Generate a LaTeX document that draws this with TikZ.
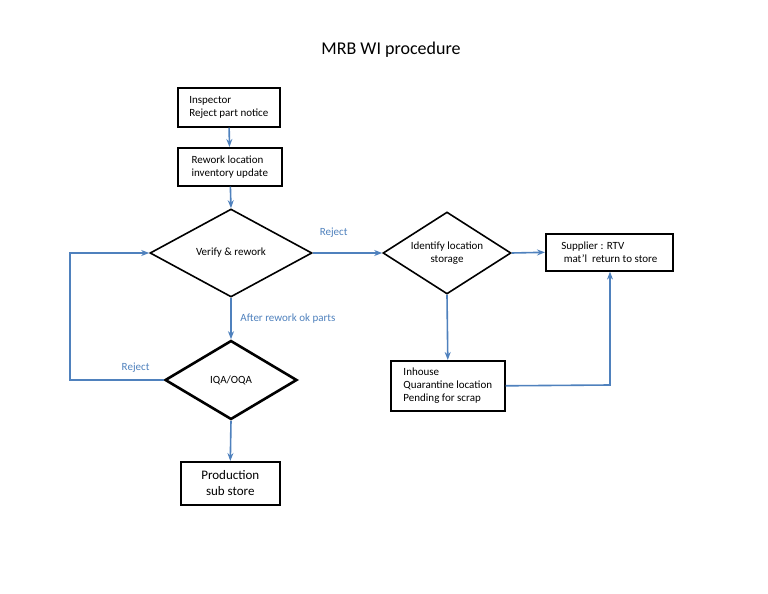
\documentclass[tikz,border=0pt]{standalone}
\usepackage{fontspec}
\setmainfont{Carlito}
\usetikzlibrary{shapes.geometric,arrows.meta}
\definecolor{ln}{RGB}{79,129,189}
\begin{document}
\begin{tikzpicture}[x=0.5pt,y=-0.5pt,
 box/.style={draw,thick,align=left,inner sep=3pt,font=\fontsize{5.5}{6.5}\selectfont},
 dia/.style={draw,thick,diamond,aspect=1.8,inner sep=1pt,font=\fontsize{5.5}{6.5}\selectfont,align=center},
 ar/.style={ln,thick,-{Stealth[length=4pt]}},
 lab/.style={font=\fontsize{5.5}{6.5}\selectfont}]
\useasboundingbox (0,0) rectangle (768,594);
\node[font=\fontsize{9}{11}\selectfont] (t) at (391,50) {MRB WI procedure};
\node[box,minimum width=51pt,minimum height=19.5pt,anchor=north west] (b1) at (177,87) {Inspector\\Reject part notice};
\node[box,minimum width=52pt,minimum height=19pt,anchor=north west] (b2) at (177,147) {Rework location\\inventory update};
\node[dia,minimum width=81pt,minimum height=44pt] (v) at (231,253) {Verify \& rework};
\node[dia,minimum width=64pt,minimum height=41pt] (id) at (447,253) {Identify location\\storage};
\node[box,minimum width=63.5pt,minimum height=18.5pt,anchor=north west] (s) at (545,233) {Supplier : RTV\\\ mat'l\ \ return to store};
\node[box,minimum width=57pt,minimum height=25pt,anchor=north west] (ih) at (390,360) {Inhouse\\Quarantine location\\Pending for scrap};
\node[dia,line width=1.3pt,minimum width=66pt,minimum height=39.5pt] (q) at (231,380) {IQA/OQA};
\node[box,align=center,minimum width=49.5pt,minimum height=21.5pt,anchor=north west,font=\fontsize{6.5}{8}\selectfont] (p) at (180,461) {Production\\sub store};
\draw[ar] (b1) -- (b2);
\draw[ar] (b2) -- (v.north);
\draw[ar] (v.east) -- node[lab,above,pos=0.3,yshift=4pt]{Reject} (id.west);
\draw[ar] (id.east) -- (s.west);
\draw[ar] (id.south) -- (ih.north);
\draw[ar] (ih.east) -- (610,385) -- (s.south -| 610,0);
\draw[ar] (v.south) -- node[lab,right,xshift=1pt]{After rework ok parts} (q.north);
\draw[ar] (q.west) -- node[lab,above,pos=0.3]{Reject} (70,380) -- (70,253) -- (v.west);
\draw[ar] (q.south) -- (p.north);
\end{tikzpicture}
\end{document}
